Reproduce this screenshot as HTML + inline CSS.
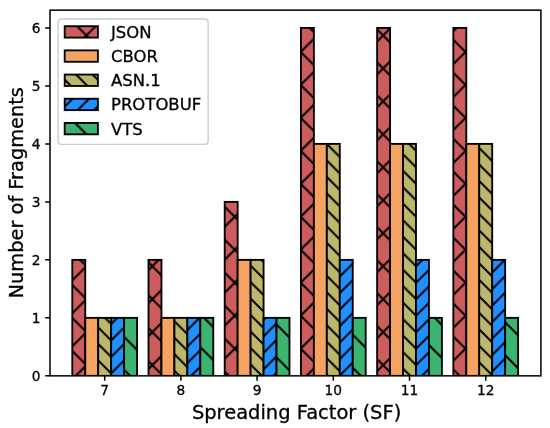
<!DOCTYPE html>
<html><head><meta charset="utf-8"><title>Number of Fragments vs Spreading Factor</title>
<style>html,body{margin:0;padding:0;background:#fff;overflow:hidden}svg{display:block}text{font-family:"DejaVu Sans","Liberation Sans",sans-serif;fill:#000;stroke:#000;stroke-width:0.3px}</style></head><body>
<svg width="550" height="428" viewBox="0 0 550 428">
<defs>
<pattern id="hx" patternUnits="userSpaceOnUse" x="20.500" y="2.500" width="32.9667" height="32.9667"><path d="M-65.933 65.933L32.967 -32.967M-32.967 65.933L65.933 -32.967M0.000 65.933L98.900 -32.967M-65.933 -32.967L32.967 65.933M-32.967 -32.967L65.933 65.933M0.000 -32.967L98.900 65.933" stroke="#000" stroke-width="1.992" fill="none" stroke-linecap="butt"/></pattern>
<pattern id="hbb" patternUnits="userSpaceOnUse" x="20.500" y="2.500" width="16.4833" height="16.4833"><path d="M-32.967 -16.483L16.483 32.967M-16.483 -16.483L32.967 32.967M0.000 -16.483L49.450 32.967" stroke="#000" stroke-width="1.992" fill="none" stroke-linecap="butt"/></pattern>
<pattern id="hff" patternUnits="userSpaceOnUse" x="20.500" y="2.500" width="16.4833" height="16.4833"><path d="M-32.967 32.967L16.483 -16.483M-16.483 32.967L32.967 -16.483M0.000 32.967L49.450 -16.483" stroke="#000" stroke-width="1.992" fill="none" stroke-linecap="butt"/></pattern>
<pattern id="hb" patternUnits="userSpaceOnUse" x="20.500" y="2.500" width="32.9667" height="32.9667"><path d="M-65.933 -32.967L32.967 65.933M-32.967 -32.967L65.933 65.933M0.000 -32.967L98.900 65.933" stroke="#000" stroke-width="1.992" fill="none" stroke-linecap="butt"/></pattern>
</defs>
<rect width="550" height="428" fill="#fff"/>
<clipPath id="axc"><rect x="50.00" y="10.15" width="490.40" height="365.70"/></clipPath>
<g clip-path="url(#axc)">
<rect x="72.29" y="259.87" width="12.96" height="115.98" fill="#cd5c5c"/>
<rect x="72.29" y="259.87" width="12.96" height="115.98" fill="url(#hx)"/>
<rect x="72.29" y="259.87" width="12.96" height="115.98" fill="none" stroke="#000" stroke-width="1.854"/>
<rect x="148.50" y="259.87" width="12.96" height="115.98" fill="#cd5c5c"/>
<rect x="148.50" y="259.87" width="12.96" height="115.98" fill="url(#hx)"/>
<rect x="148.50" y="259.87" width="12.96" height="115.98" fill="none" stroke="#000" stroke-width="1.854"/>
<rect x="224.71" y="201.88" width="12.96" height="173.97" fill="#cd5c5c"/>
<rect x="224.71" y="201.88" width="12.96" height="173.97" fill="url(#hx)"/>
<rect x="224.71" y="201.88" width="12.96" height="173.97" fill="none" stroke="#000" stroke-width="1.854"/>
<rect x="300.92" y="27.91" width="12.96" height="347.94" fill="#cd5c5c"/>
<rect x="300.92" y="27.91" width="12.96" height="347.94" fill="url(#hx)"/>
<rect x="300.92" y="27.91" width="12.96" height="347.94" fill="none" stroke="#000" stroke-width="1.854"/>
<rect x="377.12" y="27.91" width="12.96" height="347.94" fill="#cd5c5c"/>
<rect x="377.12" y="27.91" width="12.96" height="347.94" fill="url(#hx)"/>
<rect x="377.12" y="27.91" width="12.96" height="347.94" fill="none" stroke="#000" stroke-width="1.854"/>
<rect x="453.33" y="27.91" width="12.96" height="347.94" fill="#cd5c5c"/>
<rect x="453.33" y="27.91" width="12.96" height="347.94" fill="url(#hx)"/>
<rect x="453.33" y="27.91" width="12.96" height="347.94" fill="none" stroke="#000" stroke-width="1.854"/>
<rect x="85.25" y="317.86" width="12.96" height="57.99" fill="#f4a460"/>
<rect x="85.25" y="317.86" width="12.96" height="57.99" fill="none" stroke="#000" stroke-width="1.854"/>
<rect x="161.45" y="317.86" width="12.96" height="57.99" fill="#f4a460"/>
<rect x="161.45" y="317.86" width="12.96" height="57.99" fill="none" stroke="#000" stroke-width="1.854"/>
<rect x="237.66" y="259.87" width="12.96" height="115.98" fill="#f4a460"/>
<rect x="237.66" y="259.87" width="12.96" height="115.98" fill="none" stroke="#000" stroke-width="1.854"/>
<rect x="313.87" y="143.89" width="12.96" height="231.96" fill="#f4a460"/>
<rect x="313.87" y="143.89" width="12.96" height="231.96" fill="none" stroke="#000" stroke-width="1.854"/>
<rect x="390.08" y="143.89" width="12.96" height="231.96" fill="#f4a460"/>
<rect x="390.08" y="143.89" width="12.96" height="231.96" fill="none" stroke="#000" stroke-width="1.854"/>
<rect x="466.29" y="143.89" width="12.96" height="231.96" fill="#f4a460"/>
<rect x="466.29" y="143.89" width="12.96" height="231.96" fill="none" stroke="#000" stroke-width="1.854"/>
<rect x="98.20" y="317.86" width="12.96" height="57.99" fill="#bdb76b"/>
<rect x="98.20" y="317.86" width="12.96" height="57.99" fill="url(#hbb)"/>
<rect x="98.20" y="317.86" width="12.96" height="57.99" fill="none" stroke="#000" stroke-width="1.854"/>
<rect x="174.41" y="317.86" width="12.96" height="57.99" fill="#bdb76b"/>
<rect x="174.41" y="317.86" width="12.96" height="57.99" fill="url(#hbb)"/>
<rect x="174.41" y="317.86" width="12.96" height="57.99" fill="none" stroke="#000" stroke-width="1.854"/>
<rect x="250.62" y="259.87" width="12.96" height="115.98" fill="#bdb76b"/>
<rect x="250.62" y="259.87" width="12.96" height="115.98" fill="url(#hbb)"/>
<rect x="250.62" y="259.87" width="12.96" height="115.98" fill="none" stroke="#000" stroke-width="1.854"/>
<rect x="326.83" y="143.89" width="12.96" height="231.96" fill="#bdb76b"/>
<rect x="326.83" y="143.89" width="12.96" height="231.96" fill="url(#hbb)"/>
<rect x="326.83" y="143.89" width="12.96" height="231.96" fill="none" stroke="#000" stroke-width="1.854"/>
<rect x="403.03" y="143.89" width="12.96" height="231.96" fill="#bdb76b"/>
<rect x="403.03" y="143.89" width="12.96" height="231.96" fill="url(#hbb)"/>
<rect x="403.03" y="143.89" width="12.96" height="231.96" fill="none" stroke="#000" stroke-width="1.854"/>
<rect x="479.24" y="143.89" width="12.96" height="231.96" fill="#bdb76b"/>
<rect x="479.24" y="143.89" width="12.96" height="231.96" fill="url(#hbb)"/>
<rect x="479.24" y="143.89" width="12.96" height="231.96" fill="none" stroke="#000" stroke-width="1.854"/>
<rect x="111.16" y="317.86" width="12.96" height="57.99" fill="#1e90ff"/>
<rect x="111.16" y="317.86" width="12.96" height="57.99" fill="url(#hff)"/>
<rect x="111.16" y="317.86" width="12.96" height="57.99" fill="none" stroke="#000" stroke-width="1.854"/>
<rect x="187.37" y="317.86" width="12.96" height="57.99" fill="#1e90ff"/>
<rect x="187.37" y="317.86" width="12.96" height="57.99" fill="url(#hff)"/>
<rect x="187.37" y="317.86" width="12.96" height="57.99" fill="none" stroke="#000" stroke-width="1.854"/>
<rect x="263.57" y="317.86" width="12.96" height="57.99" fill="#1e90ff"/>
<rect x="263.57" y="317.86" width="12.96" height="57.99" fill="url(#hff)"/>
<rect x="263.57" y="317.86" width="12.96" height="57.99" fill="none" stroke="#000" stroke-width="1.854"/>
<rect x="339.78" y="259.87" width="12.96" height="115.98" fill="#1e90ff"/>
<rect x="339.78" y="259.87" width="12.96" height="115.98" fill="url(#hff)"/>
<rect x="339.78" y="259.87" width="12.96" height="115.98" fill="none" stroke="#000" stroke-width="1.854"/>
<rect x="415.99" y="259.87" width="12.96" height="115.98" fill="#1e90ff"/>
<rect x="415.99" y="259.87" width="12.96" height="115.98" fill="url(#hff)"/>
<rect x="415.99" y="259.87" width="12.96" height="115.98" fill="none" stroke="#000" stroke-width="1.854"/>
<rect x="492.20" y="259.87" width="12.96" height="115.98" fill="#1e90ff"/>
<rect x="492.20" y="259.87" width="12.96" height="115.98" fill="url(#hff)"/>
<rect x="492.20" y="259.87" width="12.96" height="115.98" fill="none" stroke="#000" stroke-width="1.854"/>
<rect x="124.11" y="317.86" width="12.96" height="57.99" fill="#3cb371"/>
<rect x="124.11" y="317.86" width="12.96" height="57.99" fill="url(#hb)"/>
<rect x="124.11" y="317.86" width="12.96" height="57.99" fill="none" stroke="#000" stroke-width="1.854"/>
<rect x="200.32" y="317.86" width="12.96" height="57.99" fill="#3cb371"/>
<rect x="200.32" y="317.86" width="12.96" height="57.99" fill="url(#hb)"/>
<rect x="200.32" y="317.86" width="12.96" height="57.99" fill="none" stroke="#000" stroke-width="1.854"/>
<rect x="276.53" y="317.86" width="12.96" height="57.99" fill="#3cb371"/>
<rect x="276.53" y="317.86" width="12.96" height="57.99" fill="url(#hb)"/>
<rect x="276.53" y="317.86" width="12.96" height="57.99" fill="none" stroke="#000" stroke-width="1.854"/>
<rect x="352.74" y="317.86" width="12.96" height="57.99" fill="#3cb371"/>
<rect x="352.74" y="317.86" width="12.96" height="57.99" fill="url(#hb)"/>
<rect x="352.74" y="317.86" width="12.96" height="57.99" fill="none" stroke="#000" stroke-width="1.854"/>
<rect x="428.95" y="317.86" width="12.96" height="57.99" fill="#3cb371"/>
<rect x="428.95" y="317.86" width="12.96" height="57.99" fill="url(#hb)"/>
<rect x="428.95" y="317.86" width="12.96" height="57.99" fill="none" stroke="#000" stroke-width="1.854"/>
<rect x="505.15" y="317.86" width="12.96" height="57.99" fill="#3cb371"/>
<rect x="505.15" y="317.86" width="12.96" height="57.99" fill="url(#hb)"/>
<rect x="505.15" y="317.86" width="12.96" height="57.99" fill="none" stroke="#000" stroke-width="1.854"/>
</g>
<rect x="50.00" y="10.15" width="490.90" height="365.70" fill="none" stroke="#000" stroke-width="1.500"/>
<path d="M104.68 375.85v4.81M180.89 375.85v4.81M257.10 375.85v4.81M333.30 375.85v4.81M409.51 375.85v4.81M485.72 375.85v4.81M50.00 375.85h-4.81M50.00 317.86h-4.81M50.00 259.87h-4.81M50.00 201.88h-4.81M50.00 143.89h-4.81M50.00 85.90h-4.81M50.00 27.91h-4.81" stroke="#000" stroke-width="1.500" fill="none"/>
<g font-size="13.736px" text-anchor="middle">
<text x="104.68" y="394.90">7</text>
<text x="180.89" y="394.90">8</text>
<text x="257.10" y="394.90">9</text>
<text x="333.30" y="394.90">10</text>
<text x="409.51" y="394.90">11</text>
<text x="485.72" y="394.90">12</text>
</g>
<g font-size="13.736px" text-anchor="end">
<text x="40.38" y="381.07">0</text>
<text x="40.38" y="323.08">1</text>
<text x="40.38" y="265.09">2</text>
<text x="40.38" y="207.10">3</text>
<text x="40.38" y="149.11">4</text>
<text x="40.38" y="91.12">5</text>
<text x="40.38" y="33.13">6</text>
</g>
<text x="296.60" y="418.50" font-size="19.471px" text-anchor="middle">Spreading Factor (SF)</text>
<text transform="translate(23.20,192.75) rotate(-90)" font-size="19.365px" text-anchor="middle">Number of Fragments</text>
<rect x="58.10" y="19.00" width="150.00" height="125.40" rx="3.30" fill="#fff" fill-opacity="0.8" stroke="#ccc" stroke-width="1.374"/>
<rect x="64.70" y="26.20" width="33.20" height="11.40" fill="#cd5c5c"/>
<rect x="64.70" y="26.20" width="33.20" height="11.40" fill="url(#hx)"/>
<rect x="64.70" y="26.20" width="33.20" height="11.40" fill="none" stroke="#000" stroke-width="1.854"/>
<text x="111.00" y="37.80" font-size="16.483px">JSON</text>
<rect x="64.70" y="50.38" width="33.20" height="11.40" fill="#f4a460"/>
<rect x="64.70" y="50.38" width="33.20" height="11.40" fill="none" stroke="#000" stroke-width="1.854"/>
<text x="111.00" y="61.98" font-size="16.483px">CBOR</text>
<rect x="64.70" y="74.56" width="33.20" height="11.40" fill="#bdb76b"/>
<rect x="64.70" y="74.56" width="33.20" height="11.40" fill="url(#hbb)"/>
<rect x="64.70" y="74.56" width="33.20" height="11.40" fill="none" stroke="#000" stroke-width="1.854"/>
<text x="111.00" y="86.16" font-size="16.483px">ASN.1</text>
<rect x="64.70" y="98.74" width="33.20" height="11.40" fill="#1e90ff"/>
<rect x="64.70" y="98.74" width="33.20" height="11.40" fill="url(#hff)"/>
<rect x="64.70" y="98.74" width="33.20" height="11.40" fill="none" stroke="#000" stroke-width="1.854"/>
<text x="111.00" y="110.34" font-size="16.483px">PROTOBUF</text>
<rect x="64.70" y="122.92" width="33.20" height="11.40" fill="#3cb371"/>
<rect x="64.70" y="122.92" width="33.20" height="11.40" fill="url(#hb)"/>
<rect x="64.70" y="122.92" width="33.20" height="11.40" fill="none" stroke="#000" stroke-width="1.854"/>
<text x="111.00" y="134.52" font-size="16.483px">VTS</text>
</svg></body></html>
